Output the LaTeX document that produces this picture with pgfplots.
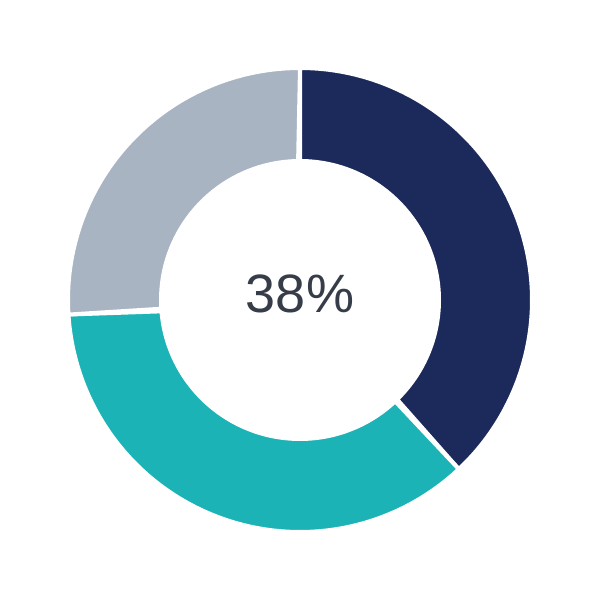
\documentclass[border=0pt]{standalone}
\usepackage{pgfplots}
\pgfplotsset{compat=1.18}
\usepackage{fontspec}
\setmainfont{Liberation Sans}

\definecolor{navy}{HTML}{1C2A5B}
\definecolor{tealc}{HTML}{1BB3B6}
\definecolor{slate}{HTML}{A9B4C3}
\definecolor{txt}{HTML}{363C48}

% one ring slice: #1 = where it starts (percent, clockwise from 12 o'clock),
% #2 = its share (percent), #3 = colour
% t runs 0..120 along the outer edge, 120..240 back along the inner edge
\newcommand{\slice}[3]{%
  \addplot[fill=#3, draw=white, line width=2pt, line join=miter,
    variable=\t, domain=0:240, samples=241]
    ({(\t<=120 ? 232 : 139)*cos(90-3.6*(#1+(\t<=120 ? \t : 240-\t)/120*#2))},
     {(\t<=120 ? 232 : 139)*sin(90-3.6*(#1+(\t<=120 ? \t : 240-\t)/120*#2))})
    -- cycle;
}

\begin{document}
\begin{tikzpicture}
\begin{axis}[
    hide axis,
    scale only axis,
    width=300pt, height=300pt,
    xmin=-300, xmax=300,
    ymin=-300, ymax=300,
    clip=false,
  ]
  % keep the whole square canvas
  \path (rel axis cs:0,0) rectangle (rel axis cs:1,1);
  \slice{0}{38}{navy}
  \slice{38}{36}{tealc}
  \slice{74}{26}{slate}
  \node[text=txt, font=\fontsize{27}{32}\selectfont] at (axis cs:0,6) {38\%};
\end{axis}
\end{tikzpicture}
\end{document}
